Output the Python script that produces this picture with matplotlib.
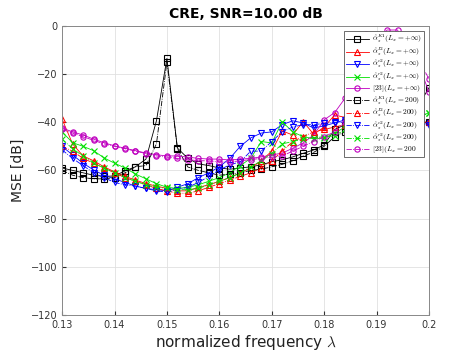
import numpy as np
import matplotlib
matplotlib.use("Agg")
import matplotlib.pyplot as plt

plt.rcParams['mathtext.fontset'] = 'cm'

# normalized frequency grid
freq = np.round(np.arange(0.13, 0.2001, 0.002), 3)

# MSE values [dB], L_x = +inf (solid) and L_x = 200 (dash-dot)
k1_inf = [-59, -60, -61, -62, -62.5, -62.3, -60.2, -58.5, -55.3, -39.4, -13.5, -50.7,
          -55, -57.3, -58, -59, -59.5, -59, -58.5, -57.7, -56.4, -55.6, -54.4, -52.9,
          -51.5, -49.4, -43, -41, -39, -37.5, -36.5, -35.5, -35, -34, -33, -25.7]
i2_inf = [-38.7, -49, -54, -56, -58.5, -60.6, -62.5, -64, -65.5, -66.5, -67.5, -68.5,
          -68.5, -67, -66, -64.5, -63, -61, -59, -56, -52, -43.6, -45.3, -39.7,
          -45, -42, -37, -38, -37, -36, -37, -38, -39, -40, -40, -40]
c2_inf = [-50, -53.6, -57, -59.8, -62, -63.5, -65, -66.5, -67.5, -68, -68.5, -67,
          -65.5, -63, -61, -58.5, -55, -50, -46.5, -44.5, -44, -41, -39.4, -40.3,
          -42.4, -41.5, -40.3, -39, -38, -38, -39, -39, -40, -40, -40, -40.5]
r2_inf = [-44, -48.5, -50, -51.8, -54.8, -57, -59, -61.5, -63.5, -65.5, -67, -67.5,
          -67, -66, -64.5, -63, -61, -58, -55, -48, -48.6, -39.8, -44, -46,
          -46.8, -46.6, -44.5, -42, -40, -39, -38, -38, -37, -37, -38, -36]
ref23_inf = [-42.4, -44, -45.3, -47, -48.5, -49.8, -50.8, -51.8, -52.8, -53.5, -54, -54,
             -54.5, -55, -55.3, -55.3, -55.7, -55.3, -55, -54.4, -53.6, -52.8, -50.8, -48.6,
             -45.3, -39, -36, -30, -15, -3.3, -8, -1.7, -1.7, -10, -16, -27.4]

k1_200 = [-60, -62, -63, -63.5, -63.5, -63, -61, -58.5, -58, -49, -15, -51,
          -58.6, -60, -61, -62, -61.5, -61, -60, -59.5, -58.5, -57.5, -56, -54,
          -52.5, -50, -46, -44, -43, -42, -41, -41, -40, -40, -40, -40]
i2_200 = [-50, -52, -55, -57, -59, -61, -63, -64.5, -66, -67.5, -68.5, -69.5,
          -69.5, -68.5, -67, -65.5, -64, -62.5, -61, -59, -56, -52, -48, -46,
          -44, -43, -42, -41, -41, -40, -40, -40, -40, -40, -40, -40]
c2_200 = [-51.5, -55, -58, -61, -63, -65, -66, -66.5, -67.5, -68.5, -69, -68,
          -67, -65, -62.5, -59.8, -57.7, -56.4, -52, -52, -48, -44, -42, -41,
          -41, -40.5, -40, -40, -40, -40, -40, -41, -41, -41, -41, -41]
r2_200 = [-47, -51, -54, -57, -59, -61, -63, -64.5, -66, -67, -67.5, -68,
          -68, -67.5, -66, -64.5, -63, -61, -58.5, -56, -53, -49, -48, -47,
          -46.5, -46, -45.7, -43, -42, -41, -40, -40, -39, -39, -38, -36]
ref23_200 = [-43, -44.5, -46, -47.5, -49, -50, -51, -52, -53, -54, -54.5, -55,
             -55.5, -56, -56, -56.5, -56.5, -56, -55.5, -55, -54.5, -54, -52, -50,
             -48, -46, -44, -40, -35, -30, -20, -12, -5, -8, -14, -22]

labels_inf = [r'$\hat{\alpha}_s^{K1}(L_x=+\infty)$', r'$\hat{\alpha}_s^{I2}(L_x=+\infty)$',
              r'$\hat{\alpha}_s^{c2}(L_x=+\infty)$', r'$\hat{\alpha}_s^{r2}(L_x=+\infty)$',
              r'$[23](L_x=+\infty)$']
labels_200 = [r'$\hat{\alpha}_s^{K1}(L_x=200)$', r'$\hat{\alpha}_s^{I2}(L_x=200)$',
              r'$\hat{\alpha}_s^{c2}(L_x=200)$', r'$\hat{\alpha}_s^{r2}(L_x=200)$',
              r'$[23](L_x=200$']

colors = ['k', 'r', 'b', '#00e000', 'm']
markers = ['s', '^', 'v', 'x', 'o']

fig = plt.figure(figsize=(4.74, 3.55), dpi=100)
ax = fig.add_axes([0.131, 0.113, 0.774, 0.814])

for ys, lab, c, m in zip([k1_inf, i2_inf, c2_inf, r2_inf, ref23_inf], labels_inf, colors, markers):
    ax.plot(freq, ys, color=c, marker=m, ls='-', lw=0.6, ms=3.8,
            mfc='none', mec=c, mew=0.8, label=lab)
for ys, lab, c, m in zip([k1_200, i2_200, c2_200, r2_200, ref23_200], labels_200, colors, markers):
    ax.plot(freq, ys, color=c, marker=m, ls='-.', lw=0.6, ms=3.8,
            mfc='none', mec=c, mew=0.8, label=lab)

ax.set_xlim(0.13, 0.2)
ax.set_ylim(-120, 0)
ax.set_xticks([0.13, 0.14, 0.15, 0.16, 0.17, 0.18, 0.19, 0.2])
ax.set_xticklabels(['0.13', '0.14', '0.15', '0.16', '0.17', '0.18', '0.19', '0.2'])
ax.set_yticks(np.arange(-120, 1, 20))
ax.tick_params(direction='in', labelsize=7, colors='#333333', length=3)
ax.grid(True, color='#e0e0e0', lw=0.6)
for s in ax.spines.values():
    s.set_color('#888888')
    s.set_linewidth(0.7)

ax.set_title('CRE, SNR=10.00 dB', fontsize=10, fontweight='bold')
ax.set_xlabel(r'normalized frequency $\lambda$', fontsize=11, color='#222222', labelpad=2)
ax.set_ylabel('MSE [dB]', fontsize=10, color='#222222')

leg = ax.legend(loc='upper right', fontsize=5.4, framealpha=1, fancybox=False,
                edgecolor='#555555', handlelength=3.0, handleheight=0.5, borderpad=0.25,
                labelspacing=0.02, handletextpad=0.4, borderaxespad=0.7)
leg.get_frame().set_linewidth(0.6)

fig.savefig('out.png', dpi=100)
